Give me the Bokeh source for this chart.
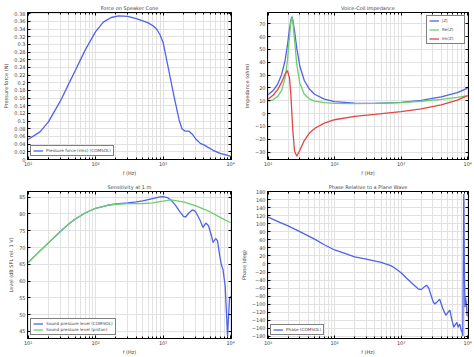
import numpy as np
from bokeh.plotting import figure
from bokeh.models import (Range1d, FixedTicker, LogAxis, LinearAxis,
                          CustomJSTickFormatter, Legend, LegendItem)
from bokeh.layouts import gridplot
from bokeh.embed import file_html
from bokeh.resources import INLINE

# ---------------- data ----------------
x_ticks = [10, 100, 1000, 10000]
x_tick_labels = ["10\u00b9", "10\u00b2", "10\u00b3", "10\u2074"]

force_f = [10, 15, 20, 30, 40, 50, 70, 100, 130, 170, 220, 300, 400, 500, 600,
           700, 800, 900, 1000, 1170, 1460, 1726, 1900, 2100, 2400, 2700, 3100,
           3550, 4000, 4500, 5500, 7000, 8500, 10000]
force_n = [0.052, 0.072, 0.098, 0.152, 0.197, 0.232, 0.285, 0.333, 0.358, 0.370,
           0.374, 0.373, 0.367, 0.361, 0.356, 0.349, 0.340, 0.325, 0.305, 0.246,
           0.162, 0.103, 0.080, 0.074, 0.074, 0.066, 0.052, 0.042, 0.038, 0.033,
           0.024, 0.016, 0.012, 0.008]

imp_f = [10, 12, 14, 16, 18, 19.5, 21, 22, 22.8, 23.5, 25, 27, 30, 35, 42, 50,
         70, 100, 200, 400, 1000, 2000, 4000, 7000, 10000]
imp_abs = [14.6, 18.1, 23.2, 30.5, 41.4, 52.9, 66.1, 72.8, 75.5, 73.2, 64.3, 50.8,
           37.1, 25.8, 18.9, 15.1, 11.3, 9.3, 8.1, 7.9, 8.75, 10.3, 13.0, 16.4, 19.8]
imp_re = [9.5, 10.9, 13.4, 18.1, 27.7, 40.9, 60.0, 71.3, 75.0, 72.1, 57.3, 38.3,
          23.7, 15.0, 11.3, 9.7, 8.5, 8.0, 7.8, 7.9, 8.6, 9.6, 11.0, 12.6, 14.0]
imp_im = [11.1, 14.5, 18.9, 24.5, 30.8, 33.6, 27.7, 14.6, 0.1, -12.4, -29.2, -33.3,
          -28.6, -21.0, -15.1, -11.6, -7.4, -4.8, -2.1, -0.6, 1.6, 3.6, 6.8, 10.5, 14.0]

spl_piston_f = [10, 15, 20, 30, 40, 50, 70, 100, 150, 200, 300, 500, 700, 1000,
                1300, 2000, 3000, 5000, 7000, 10000]
spl_piston = [65.5, 69.0, 71.4, 74.8, 77.0, 78.5, 80.3, 81.7, 82.6, 82.9, 83.1,
              83.1, 83.3, 83.8, 84.2, 83.6, 82.5, 80.6, 79.0, 77.4]
spl_comsol_f = [10, 15, 20, 30, 40, 50, 70, 100, 150, 200, 300, 400, 500, 700, 900,
                1000, 1150, 1300, 1500, 1800, 2000, 2150, 2400, 2700, 3000, 3500,
                3900, 4300, 4700, 5200, 5500, 6000, 6400, 6900, 7300, 7700, 8000,
                8300, 8700, 9000, 9300, 9600, 10000]
spl_comsol = [65.5, 69.0, 71.4, 74.8, 77.0, 78.5, 80.3, 81.7, 82.6, 83.0, 83.3,
              83.6, 83.9, 84.6, 85.1, 85.2, 84.9, 84.2, 82.8, 80.5, 79.3, 79.1,
              80.3, 81.2, 80.8, 78.3, 76.0, 77.3, 76.5, 73.5, 71.5, 72.7, 72.0,
              67.5, 64.8, 63.5, 61.0, 58.5, 50.0, 43.5, 49.0, 54.5, 55.5]

phase_f = [10, 15, 20, 30, 50, 70, 100, 150, 200, 300, 500, 700, 800, 1000, 1200,
           1500, 1800, 2000, 2200, 2400, 2600, 3000, 3200, 3500, 3800, 4200, 4700,
           5100, 5400, 5800, 6200, 6600, 6900, 7200, 7600, 8000, 8300, 8450, 8750,
           8900, 9100, 9300, 9600, 9800, 10000]
phase_deg = [117, 104, 95, 81, 62, 48, 35, 25, 18, 12, 4, -4, -10, -22, -35,
             -50, -62, -64, -58, -53, -60, -92, -100, -94, -88, -110, -128, -120,
             -115, -140, -158, -150, -146, -158, -150, -165, -170, -180, 175, 20,
             -108, -84, -100, -130, -128]

BLUE = "#4f63e8"
GREEN = "#6ccf6c"
RED = "#e04646"
FONT = "DejaVu Sans"
GRID = "#e2e2e2"

minor_x = [m * d for d in (10, 100, 1000) for m in range(2, 10)]

x_fmt_code = """
for (let i = 0; i < tv.length; i++) {
  if (Math.abs(Math.log10(tick) - Math.log10(tv[i])) < 1e-6) return tl[i];
}
return '';
"""
y_fmt_code = "return String(parseFloat(tick.toFixed(4))).replace('-', '\u2212');"


def panel(title, ylabel, yr, yticks, w, h, bl, br, bt, bb):
    p = figure(width=w, height=h, x_axis_type="log",
               x_range=Range1d(9.8, 10300), y_range=Range1d(*yr),
               output_backend="svg", toolbar_location=None,
               min_border_left=bl, min_border_right=br,
               min_border_top=bt, min_border_bottom=bb)
    p.title.text = title
    p.title.align = "center"
    p.title.text_font = FONT
    p.title.text_font_size = "5px"
    p.title.text_font_style = "normal"
    p.title.standoff = 3
    p.title.offset = 0
    p.outline_line_color = "black"
    p.outline_line_width = 1

    xa = p.xaxis[0]
    xa.ticker = FixedTicker(ticks=x_ticks, minor_ticks=minor_x)
    xa.formatter = CustomJSTickFormatter(args=dict(tv=x_ticks, tl=x_tick_labels),
                                         code=x_fmt_code)
    xa.axis_label = "f (Hz)"
    ya = p.yaxis[0]
    ya.ticker = FixedTicker(ticks=yticks, minor_ticks=[])
    ya.formatter = CustomJSTickFormatter(code=y_fmt_code)
    ya.axis_label = ylabel
    for ax in (xa, ya):
        ax.major_label_text_font = FONT
        ax.major_label_text_font_size = "5px"
        ax.axis_label_text_font = FONT
        ax.axis_label_text_font_size = "5px"
        ax.axis_label_text_font_style = "normal"
        ax.axis_label_standoff = 0
        ax.major_label_standoff = 1
        ax.major_tick_in = 3
        ax.major_tick_out = 0
        ax.minor_tick_in = 2
        ax.minor_tick_out = 0
        ax.axis_line_color = "black"
    ya.major_label_standoff = 2
    ya.axis_label_standoff = 2

    top = LogAxis(ticker=FixedTicker(ticks=x_ticks, minor_ticks=minor_x),
                  formatter=CustomJSTickFormatter(code="return '';"),
                  major_label_text_font_size="0px", major_label_standoff=0,
                  major_tick_in=3, major_tick_out=0, minor_tick_in=2,
                  minor_tick_out=0, axis_line_color="black")
    p.add_layout(top, "above")
    right = LinearAxis(ticker=FixedTicker(ticks=yticks, minor_ticks=[]),
                       formatter=CustomJSTickFormatter(code="return '';"),
                       major_label_text_font_size="0px", major_label_standoff=0,
                       major_tick_in=3, major_tick_out=0, minor_tick_in=0,
                       minor_tick_out=0, axis_line_color="black")
    p.add_layout(right, "right")

    p.xgrid.grid_line_color = GRID
    p.xgrid.minor_grid_line_color = GRID
    p.ygrid.grid_line_color = GRID
    return p


def add_legend(p, items, loc, spacing=1):
    lg = Legend(items=[LegendItem(label=l, renderers=[r]) for l, r in items],
                location=loc)
    lg.label_text_font = FONT
    lg.label_text_font_size = "4.2px"
    lg.label_height = 5
    lg.glyph_height = 5
    lg.glyph_width = 10
    lg.label_standoff = 3
    lg.padding = 2
    lg.spacing = spacing
    lg.margin = 3
    lg.border_line_color = "black"
    lg.border_line_width = 1
    lg.background_fill_alpha = 1
    p.add_layout(lg)


# Panel 1
y1_ticks = [round(0.02 * i, 2) for i in range(20)]
p1 = panel("Force on Speaker Cone", "Pressure force (N)", (0, 0.383), y1_ticks,
           237, 178, 24, 6, 12, 14)
r1 = p1.line(force_f, force_n, color=BLUE, line_width=1.3)
add_legend(p1, [("Pressure force (rms) (COMSOL)", r1)], "bottom_left")

# Panel 2
y2_ticks = list(range(-30, 80, 10))
p2 = panel("Voice-Coil Impedance", "Impedance (ohm)", (-35.8, 78.8), y2_ticks,
           237, 178, 23, 6, 12, 14)
ra = p2.line(imp_f, imp_abs, color=BLUE, line_width=1.3)
rr = p2.line(imp_f, imp_re, color=GREEN, line_width=1.3)
ri = p2.line(imp_f, imp_im, color=RED, line_width=1.3)
add_legend(p2, [("|Z|", ra), ("Re(Z)", rr), ("Im(Z)", ri)], "top_right", spacing=4)

# Panel 3
y3_ticks = list(range(45, 90, 5))
p3 = panel("Sensitivity at 1 m", "Level (dB SPL rel. 1 V)", (42.9, 86.7), y3_ticks,
           237, 179, 24, 6, 13, 13)
rc = p3.line(spl_comsol_f, spl_comsol, color=BLUE, line_width=1.3)
rp = p3.line(spl_piston_f, spl_piston, color=GREEN, line_width=1.3)
add_legend(p3, [("Sound pressure level (COMSOL)", rc),
                ("Sound pressure level (piston)", rp)], "bottom_left")

# Panel 4
y4_ticks = list(range(-180, 200, 20))
p4 = panel("Phase Relative to a Plane Wave", "Phase (deg)", (-186, 181), y4_ticks,
           237, 179, 23, 6, 13, 13)
rph = p4.line(phase_f, phase_deg, color=BLUE, line_width=1.3)
add_legend(p4, [("Phase (COMSOL)", rph)], "bottom_left")

grid = gridplot([[p1, p2], [p3, p4]], toolbar_location=None)

open("out.html", "w").write(file_html(grid, INLINE))
